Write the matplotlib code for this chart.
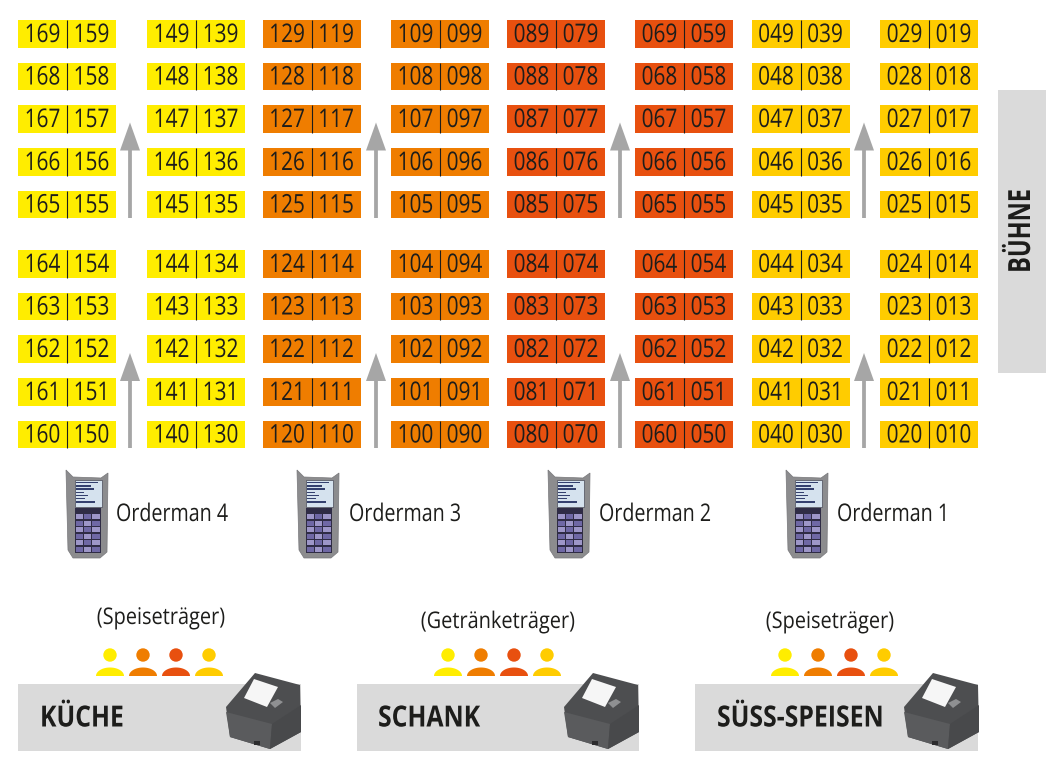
import numpy as np
import matplotlib
matplotlib.use('Agg')
import matplotlib.pyplot as plt
import matplotlib.patheffects as pe
from matplotlib.patches import Rectangle, Polygon, Circle
from matplotlib.transforms import Affine2D

plt.rcParams['font.family'] = ['Open Sans', 'DejaVu Sans']

# Seat numbers per block, top row first
block_starts = [169, 149, 129, 109, 89, 69, 49, 29]
row_steps = [0, 1, 2, 3, 4, 5, 6, 7, 8, 9]
block_colors = ['#FFED00', '#FFED00', '#EF7D00', '#EF7D00', '#E8500F', '#E8500F', '#FFCC00', '#FFCC00']

orderman_labels = ['Orderman 4', 'Orderman 3', 'Orderman 2', 'Orderman 1']
station_labels = ['KÜCHE', 'SCHANK', 'SÜSS-SPEISEN']
carrier_labels = ['(Speiseträger)', '(Getränketräger)', '(Speiseträger)']
person_colors = ['#FFED00', '#EF7D00', '#E8500F', '#FFCC00']

# Layout in pixels
block_x = [18, 147, 262.5, 391, 507, 635, 751.5, 880]
row_y = [20, 62.5, 105, 148, 190.5, 250, 292.5, 335, 378, 420.5]
arrow_x = [130, 376, 620, 864]
phone_x = [66, 297, 548, 786]
label_x = [116, 349, 599, 837]
station_x = [18, 357, 695]
station_w = [283, 282, 283]
station_text_x = [40, 378, 717]
carrier_x = [161, 498, 830]
carrier_y = [618, 622, 622]
person_x = [110, 448, 785]
printer_x = [226, 564, 904]
TEXT = '#1d1d1b'
GREY = '#A6A6A6'
BOX = '#DADADA'

fig = plt.figure(figsize=(10.59, 7.68), dpi=100)
ax = fig.add_axes([0, 0, 1, 1])
ax.set_xlim(0, 1059)
ax.set_ylim(768, 0)
ax.axis('off')


class Squeeze(pe.AbstractPathEffect):
    # narrows a text around its anchor, there is no condensed font installed
    def __init__(self, anchor, sx=1.0, sy=1.0):
        super().__init__()
        self.anchor = anchor
        self.sx = sx
        self.sy = sy

    def draw_path(self, renderer, gc, tpath, affine, rgbFace=None):
        cx, cy = ax.transData.transform(self.anchor)
        squeeze = Affine2D().translate(-cx, -cy).scale(self.sx, self.sy).translate(cx, cy)
        renderer.draw_path(gc, tpath, affine + squeeze, rgbFace)


def narrow_text(x, y, s, size, squeeze, weight='normal', ha='center', rotation=0):
    eff = Squeeze((x, y), sy=squeeze) if rotation else Squeeze((x, y), sx=squeeze)
    ax.text(x, y, s, fontsize=size, fontweight=weight, color=TEXT, ha=ha, va='center',
            rotation=rotation, path_effects=[eff])


def draw_phone(x0):
    ax.add_patch(Polygon([(x0, 470), (x0 + 7, 477), (x0 + 35, 478), (x0 + 42, 473), (x0 + 41, 552),
                          (x0 + 34, 558), (x0 + 7, 558), (x0 + 2, 550)], fc='#8c8c8e', ec='#77777a', lw=0.5))
    ax.add_patch(Rectangle((x0 + 9, 480), 27, 27, fc='#d5e2ee', ec='#4a4a58', lw=0.5))
    for i, w in enumerate([22, 15, 18, 8, 12, 9, 19]):
        ax.add_patch(Rectangle((x0 + 10, 482 + i * 3.2), w, 1.3, fc='#34406e', lw=0))
    ax.add_patch(Rectangle((x0 + 9, 508), 26, 45, fc='#2f2c45', lw=0))
    for r in range(6):
        for c in range(3):
            col = '#6f68a5' if (r + c) % 2 else '#9d96c8'
            ax.add_patch(Rectangle((x0 + 10 + c * 8.2, 514 + r * 6.5), 7.2, 5, fc=col, lw=0))


def draw_person(cx, color):
    ax.add_patch(Circle((cx, 655), 6.7, fc=color, lw=0))
    t = np.linspace(np.pi, 2 * np.pi, 30)
    ax.add_patch(Polygon(np.column_stack([cx + 14 * np.cos(t), 676 + 8.5 * np.sin(t)]), fc=color, lw=0))


def draw_printer(x0):
    ax.add_patch(Polygon([(x0, 707), (x0 + 29, 673), (x0 + 74, 685), (x0 + 75, 732), (x0 + 44, 749),
                          (x0 + 4, 737)], fc='#4d4e50', lw=0))
    # front and right faces
    ax.add_patch(Polygon([(x0, 712), (x0 + 46, 724), (x0 + 44, 749), (x0 + 4, 737)], fc='#5a5b5d', lw=0))
    ax.add_patch(Polygon([(x0 + 46, 724), (x0 + 75, 705), (x0 + 75, 732), (x0 + 44, 749)], fc='#48494b', lw=0))
    ax.add_patch(Polygon([(x0 + 18, 698), (x0 + 28, 679), (x0 + 52, 687), (x0 + 41, 707)], fc='#f6f6f6', lw=0))
    ax.add_patch(Polygon([(x0 + 44, 703), (x0 + 52, 699), (x0 + 57, 702), (x0 + 49, 708)], fc='#8f9092', lw=0))
    ax.add_patch(Rectangle((x0 + 28, 741), 6, 4, fc='#2c2c2e', lw=0))


# Seat blocks
for b, start in enumerate(block_starts):
    x0 = block_x[b]
    for r, step in enumerate(row_steps):
        y0 = row_y[r]
        ax.add_patch(Rectangle((x0, y0), 98.3, 27.5, fc=block_colors[b], lw=0))
        ax.plot([x0 + 49, x0 + 49], [y0, y0 + 27.5], color=TEXT, lw=0.8, solid_capstyle='butt')
        left = start - step
        narrow_text(x0 + 24.5, y0 + 15.5, f'{left:03d}', 18.5, 0.81)
        narrow_text(x0 + 73.5, y0 + 15.5, f'{left - 10:03d}', 18.5, 0.81)

# Aisle arrows
for x in arrow_x:
    for bottom, tip in [(218, 122.5), (448, 353)]:
        ax.add_patch(Polygon([(x - 1.9, bottom), (x - 1.9, tip + 28), (x - 10, tip + 28), (x, tip),
                              (x + 10, tip + 28), (x + 1.9, tip + 28), (x + 1.9, bottom)], fc=GREY, lw=0))

# Stage
ax.add_patch(Rectangle((998, 90), 48, 283, fc=BOX, lw=0))
narrow_text(1022, 231, 'BÜHNE', 22, 0.77, weight='bold', rotation=90)

# Order terminals
for x, tx, name in zip(phone_x, label_x, orderman_labels):
    draw_phone(x)
    narrow_text(tx, 515, name, 17.5, 0.81, ha='left')

# Stations
for i, name in enumerate(station_labels):
    ax.add_patch(Rectangle((station_x[i], 684), station_w[i], 67, fc=BOX, lw=0))
    narrow_text(station_text_x[i], 719, name, 21, 0.85, weight='bold', ha='left')
    narrow_text(carrier_x[i], carrier_y[i], carrier_labels[i], 16.5, 0.87)
    for k, c in enumerate(person_colors):
        draw_person(person_x[i] + k * 33, c)
    draw_printer(printer_x[i])

fig.savefig('out.png', dpi=100)
